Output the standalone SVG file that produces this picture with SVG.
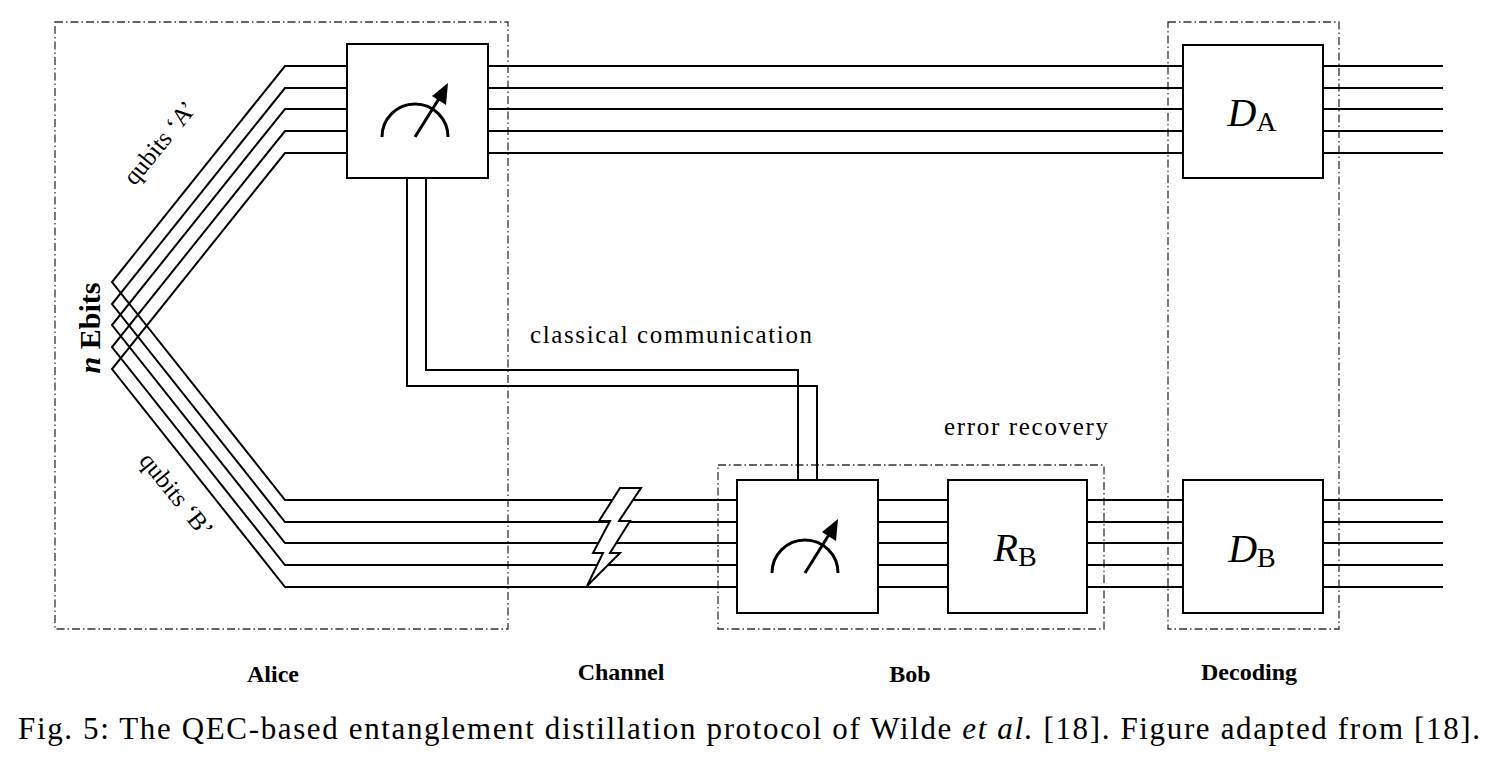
<svg xmlns="http://www.w3.org/2000/svg" width="1498" height="766" viewBox="0 0 1498 766">
<style>
.w{fill:none;stroke:#000;stroke-width:2}
.b{fill:#fff;stroke:#000;stroke-width:2}
.d{fill:none;stroke:#333;stroke-width:1.3;stroke-dasharray:8 3 1.5 3}
text{font-family:"Liberation Serif",serif;fill:#000}
.l{font-size:24px;font-weight:bold;text-anchor:middle}
.s{font-size:25px}
.m{fill:none;stroke:#000;stroke-width:3}
</style>
<rect width="1498" height="766" fill="#fff"/>
<g id="regions">
<rect class="d" x="55" y="22" width="453" height="607"/>
<rect class="d" x="718" y="465" width="386" height="164"/>
<rect class="d" x="1168" y="22" width="171" height="607"/>
</g>
<g id="connectors">
<path class="w" d="M1183 66H285L112 282L285 500H737M1183 88H285L112 304L285 522H737M1183 109H285L112 325L285 543H737M1183 131H285L112 347L285 565H737M1183 153H285L112 369L285 587H737"/>
<path class="w" d="M878 500H948M878 522H948M878 543H948M878 565H948M878 587H948M1087 500H1183M1087 522H1183M1087 543H1183M1087 565H1183M1087 587H1183"/>
<path class="w" d="M1323 66H1443M1323 88H1443M1323 109H1443M1323 131H1443M1323 153H1443M1323 500H1443M1323 522H1443M1323 543H1443M1323 565H1443M1323 587H1443"/>
<path class="w" d="M407 178V386H817V480M426 178V370H798V480"/>
</g>
<g id="channel">
<polygon class="b" points="620,488 641,488 619,521 630,521 610,553 620,553 587,586 603,553 593,553 610,521 599,521"/>
</g>
<g id="measureA">
<rect class="b" x="347" y="44" width="141" height="134"/>
<path class="m" d="M382 137A33 33 0 0 1 448 137M415 137L440 97"/>
<polygon points="448,83 446,105 432,96"/>
</g>
<g id="measureB">
<rect class="b" x="737" y="480" width="141" height="133"/>
<path class="m" d="M772 573A33 33 0 0 1 838 573M805 573L830 533"/>
<polygon points="838,519 836,541 822,532"/>
</g>
<g id="RB"><rect class="b" x="948" y="480" width="139" height="133"/><text x="1015" y="561" font-size="40" text-anchor="middle"><tspan font-style="italic">R</tspan><tspan font-size="28" dy="5">B</tspan></text></g>
<g id="DA"><rect class="b" x="1183" y="45" width="140" height="133"/><text x="1252" y="126" font-size="40" text-anchor="middle"><tspan font-style="italic">D</tspan><tspan font-size="28" dy="5">A</tspan></text></g>
<g id="DB"><rect class="b" x="1183" y="480" width="140" height="133"/><text x="1252" y="562" font-size="40" text-anchor="middle"><tspan font-style="italic">D</tspan><tspan font-size="28" dy="5">B</tspan></text></g>
<g id="labels">
<text class="s" transform="translate(166,148) rotate(-51)" text-anchor="middle">qubits ‘A’</text>
<text class="s" transform="translate(170,500) rotate(51)" text-anchor="middle">qubits ‘B’</text>
<text transform="translate(100,328) rotate(-90)" font-size="30" font-weight="bold" text-anchor="middle"><tspan font-style="italic">n</tspan> Ebits</text>
<text class="s" x="530" y="343" textLength="282">classical communication</text>
<text class="s" x="944" y="435" textLength="164">error recovery</text>
<text class="l" x="273" y="682">Alice</text>
<text class="l" x="621" y="680">Channel</text>
<text class="l" x="910" y="682">Bob</text>
<text class="l" x="1249" y="680">Decoding</text>
<text x="18" y="739" font-size="31" textLength="1462">Fig. 5: The QEC-based entanglement distillation protocol of Wilde <tspan font-style="italic">et al.</tspan> [18]. Figure adapted from [18].</text>
</g>
</svg>
